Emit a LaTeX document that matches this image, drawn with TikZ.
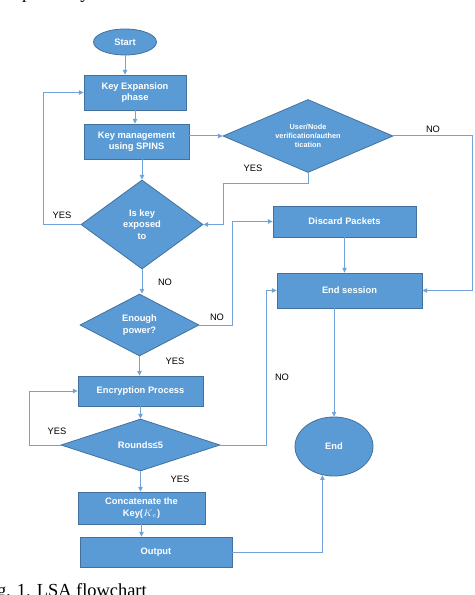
\documentclass[tikz,border=0pt]{standalone}
\usepackage{fontspec}
\setmainfont{Liberation Serif}
\setsansfont{Liberation Sans}
\usetikzlibrary{shapes.geometric,arrows.meta}
\definecolor{boxblue}{HTML}{5B9BD5}
\definecolor{boxedge}{HTML}{41719C}
\definecolor{linkblue}{HTML}{6FA3D9}
\begin{document}
\begin{tikzpicture}[x=0.75pt,y=-0.75pt,
  sz/.style 2 args={minimum width=#1*0.75pt, minimum height=#2*0.75pt},
  shapebase/.style={draw=boxedge, line width=0.6pt, fill=boxblue, text=white,
    font=\sffamily\bfseries\fontsize{7}{8.4}\selectfont, align=center, inner sep=0pt},
  proc/.style={shapebase, rectangle},
  dec/.style={shapebase, diamond, aspect=#1},
  term/.style={shapebase, ellipse},
  arr/.style={draw=linkblue, line width=0.75pt, -{Triangle[length=3.5pt,width=3.2pt]}},
  lbl/.style={font=\sffamily\fontsize{7}{8}\selectfont, text=black, inner sep=0pt},
  capt/.style={font=\rmfamily\fontsize{13.8}{16}\selectfont, text=black, inner sep=0pt}
]
\useasboundingbox (0,0) rectangle (474,595);

% caption fragments
\node[capt, anchor=base west] (toptext) at (0.5,-1.5) {respectively};
\node[capt, anchor=base east] (caption) at (147,596) {Fig. 1. LSA flowchart};

% nodes
\node[term, sz={63}{26}] (start) at (125,42) {Start};
\node[proc, sz={102}{35}] (keyexp) at (135,92.5) {Key Expansion\\phase};
\node[proc, sz={105}{35}] (keymgmt) at (136.5,141.5) {Key management\\using SPINS};
\node[dec=2.33, sz={170}{73}, font=\sffamily\bfseries\fontsize{5.5}{7}\selectfont] (user) at (308,136) {User/Node\\verification/authen\\tication};
\node[dec=1.37, sz={122}{89}] (iskey) at (142,224.5) {Is key\\exposed\\to};
\node[dec=1.92, sz={119}{62}] (enough) at (139.5,325) {Enough\\power?};
\node[proc, sz={125}{30}] (encr) at (140.5,391) {Encryption Process};
\node[dec=3.06, sz={159}{52}] (rounds) at (140.5,445) {Rounds≤5};
\node[proc, sz={127}{32}] (concat) at (141.5,508) {Concatenate the\\Key($K_c$)};
\node[proc, sz={152}{30}] (output) at (156,552) {Output};
\node[proc, sz={143}{31}] (discard) at (344.5,221.5) {Discard Packets};
\node[proc, sz={145}{35}] (endsess) at (349.5,290.5) {End session};
\node[term, sz={78}{59}] (endnode) at (334,446.5) {End};

% helper coordinates for connector bends
\coordinate (cyes1) at (223,184);
\coordinate (cno1) at (472,0);
\coordinate (cyes2) at (43,0);
\coordinate (cno2) at (232,0);
\coordinate (cno3) at (266,0);
\coordinate (cyes3) at (29,0);

% straight flow
\draw[arr] (start) -- (start |- keyexp.north);
\draw[arr] (keyexp.south) -- (keyexp.south |- keymgmt.north);
\draw[arr] (keymgmt.east |- user.west) -- (user.west);
\draw[arr] (keymgmt.south -| iskey.north) -- (iskey.north);
\draw[arr] (iskey.south) -- (iskey.south |- enough.north);
\draw[arr] (enough.south) -- (enough.south |- encr.north);
\draw[arr] (encr.south) -- (encr.south |- rounds.north);
\draw[arr] (rounds.south) -- (rounds.south |- concat.north);
\draw[arr] (concat.south) -- (concat.south |- output.north);
\draw[arr] (discard.south) -- (discard.south |- endsess.north);
\draw[arr] (endnode |- endsess.south) -- (endnode.north);

% loops and branches
\draw[arr] (user.south) |- (cyes1) |- (iskey.east);
\draw[arr] (user.east) -- (user.east -| cno1) |- (endsess.east);
\draw[arr] (iskey.west) -- (iskey.west -| cyes2) |- (keyexp.west);
\draw[arr] (enough.east) -- (enough.east -| cno2) |- (discard.west);
\draw[arr] (rounds.east) -- (rounds.east -| cno3) |- (endsess.west);
\draw[arr] (rounds.west) -- (rounds.west -| cyes3) |- (encr.west);
\draw[arr] (output.east) -| (endnode.-112);

% labels
\node[lbl] (l1) at (433,129) {NO};
\node[lbl] (l2) at (253,168) {YES};
\node[lbl] (l3) at (62,215) {YES};
\node[lbl] (l4) at (165,282) {NO};
\node[lbl] (l5) at (217,317) {NO};
\node[lbl] (l6) at (175,361) {YES};
\node[lbl] (l7) at (282,377) {NO};
\node[lbl] (l8) at (57,431) {YES};
\node[lbl] (l9) at (180,479) {YES};
\end{tikzpicture}
\end{document}
